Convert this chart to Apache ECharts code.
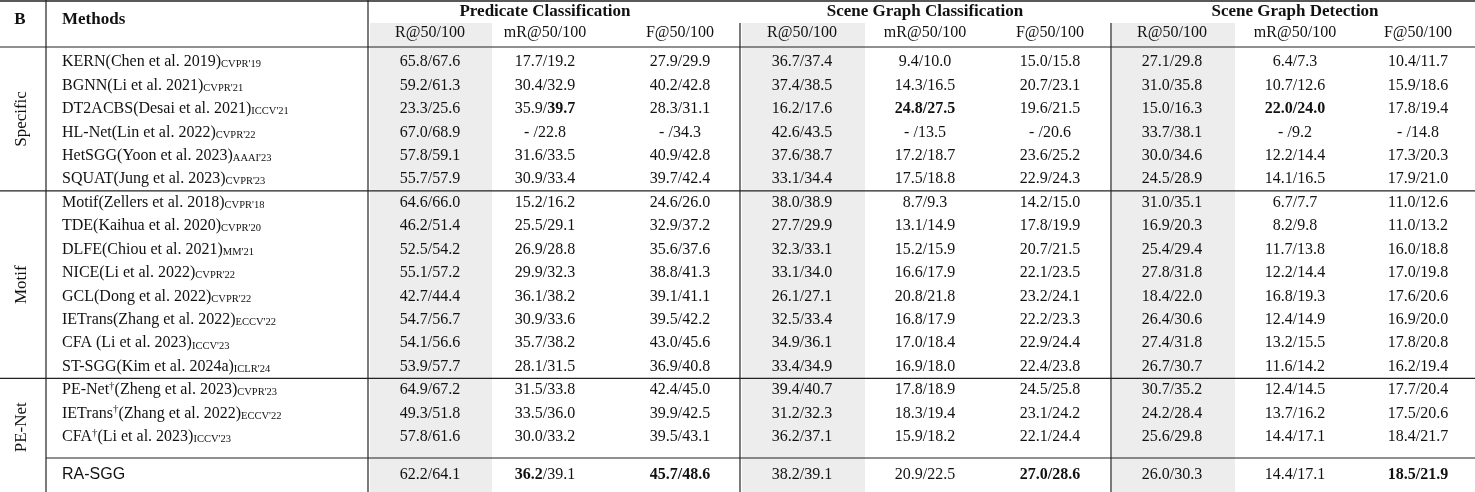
<!DOCTYPE html>
<html>
<head>
<meta charset="utf-8">
<script src="https://cdn.jsdelivr.net/npm/echarts@6/dist/echarts.min.js"></script>
<style>html,body{margin:0;padding:0;background:#fff}#chart{width:1475px;height:492px}</style>
</head>
<body>
<div id="chart"></div>
<script>
// table data
const groups = ['Specific', 'Motif', 'PE-Net']
const taskHeaders = ['Predicate Classification', 'Scene Graph Classification', 'Scene Graph Detection']
const metricHeaders = ['R@50/100', 'mR@50/100', 'F@50/100']

const specificMethods = [
  ['KERN(Chen et al. 2019)', "CVPR'19"],
  ['BGNN(Li et al. 2021)', "CVPR'21"],
  ['DT2ACBS(Desai et al. 2021)', "ICCV'21"],
  ['HL-Net(Lin et al. 2022)', "CVPR'22"],
  ['HetSGG(Yoon et al. 2023)', "AAAI'23"],
  ['SQUAT(Jung et al. 2023)', "CVPR'23"]
]
const specificValues = [
  ['65.8/67.6', '17.7/19.2', '27.9/29.9', '36.7/37.4', '9.4/10.0', '15.0/15.8', '27.1/29.8', '6.4/7.3', '10.4/11.7'],
  ['59.2/61.3', '30.4/32.9', '40.2/42.8', '37.4/38.5', '14.3/16.5', '20.7/23.1', '31.0/35.8', '10.7/12.6', '15.9/18.6'],
  ['23.3/25.6', '35.9/**39.7**', '28.3/31.1', '16.2/17.6', '**24.8/27.5**', '19.6/21.5', '15.0/16.3', '**22.0/24.0**', '17.8/19.4'],
  ['67.0/68.9', '- /22.8', '- /34.3', '42.6/43.5', '- /13.5', '- /20.6', '33.7/38.1', '- /9.2', '- /14.8'],
  ['57.8/59.1', '31.6/33.5', '40.9/42.8', '37.6/38.7', '17.2/18.7', '23.6/25.2', '30.0/34.6', '12.2/14.4', '17.3/20.3'],
  ['55.7/57.9', '30.9/33.4', '39.7/42.4', '33.1/34.4', '17.5/18.8', '22.9/24.3', '24.5/28.9', '14.1/16.5', '17.9/21.0']
]
const motifMethods = [
  ['Motif(Zellers et al. 2018)', "CVPR'18"],
  ['TDE(Kaihua et al. 2020)', "CVPR'20"],
  ['DLFE(Chiou et al. 2021)', "MM'21"],
  ['NICE(Li et al. 2022)', "CVPR'22"],
  ['GCL(Dong et al. 2022)', "CVPR'22"],
  ['IETrans(Zhang et al. 2022)', "ECCV'22"],
  ['CFA (Li et al. 2023)', "ICCV'23"],
  ['ST-SGG(Kim et al. 2024a)', "ICLR'24"]
]
const motifValues = [
  ['64.6/66.0', '15.2/16.2', '24.6/26.0', '38.0/38.9', '8.7/9.3', '14.2/15.0', '31.0/35.1', '6.7/7.7', '11.0/12.6'],
  ['46.2/51.4', '25.5/29.1', '32.9/37.2', '27.7/29.9', '13.1/14.9', '17.8/19.9', '16.9/20.3', '8.2/9.8', '11.0/13.2'],
  ['52.5/54.2', '26.9/28.8', '35.6/37.6', '32.3/33.1', '15.2/15.9', '20.7/21.5', '25.4/29.4', '11.7/13.8', '16.0/18.8'],
  ['55.1/57.2', '29.9/32.3', '38.8/41.3', '33.1/34.0', '16.6/17.9', '22.1/23.5', '27.8/31.8', '12.2/14.4', '17.0/19.8'],
  ['42.7/44.4', '36.1/38.2', '39.1/41.1', '26.1/27.1', '20.8/21.8', '23.2/24.1', '18.4/22.0', '16.8/19.3', '17.6/20.6'],
  ['54.7/56.7', '30.9/33.6', '39.5/42.2', '32.5/33.4', '16.8/17.9', '22.2/23.3', '26.4/30.6', '12.4/14.9', '16.9/20.0'],
  ['54.1/56.6', '35.7/38.2', '43.0/45.6', '34.9/36.1', '17.0/18.4', '22.9/24.4', '27.4/31.8', '13.2/15.5', '17.8/20.8'],
  ['53.9/57.7', '28.1/31.5', '36.9/40.8', '33.4/34.9', '16.9/18.0', '22.4/23.8', '26.7/30.7', '11.6/14.2', '16.2/19.4']
]
const penetMethods = [
  ['PE-Net†(Zheng et al. 2023)', "CVPR'23"],
  ['IETrans†(Zhang et al. 2022)', "ECCV'22"],
  ['CFA†(Li et al. 2023)', "ICCV'23"]
]
const penetValues = [
  ['64.9/67.2', '31.5/33.8', '42.4/45.0', '39.4/40.7', '17.8/18.9', '24.5/25.8', '30.7/35.2', '12.4/14.5', '17.7/20.4'],
  ['49.3/51.8', '33.5/36.0', '39.9/42.5', '31.2/32.3', '18.3/19.4', '23.1/24.2', '24.2/28.4', '13.7/16.2', '17.5/20.6'],
  ['57.8/61.6', '30.0/33.2', '39.5/43.1', '36.2/37.1', '15.9/18.2', '22.1/24.4', '25.6/29.8', '14.4/17.1', '18.4/21.7']
]
const oursName = 'RA-SGG'
const oursValues = ['62.2/64.1', '**36.2**/39.1', '**45.7/48.6**', '38.2/39.1', '20.9/22.5', '**27.0/28.6**', '26.0/30.3', '14.4/17.1', '**18.5/21.9**']

// layout
const W = 1475, H = 492
const colX = [430, 545, 680, 802, 925, 1050, 1172, 1295, 1418]
const rowY0 = 62, rowStep = 23.44, oursY = 475
const serif = '"Liberation Serif", "DejaVu Serif", serif'
const sans = '"Liberation Sans", Arial, sans-serif'

function boldRich(s) {
  return s.split('**').map((p, i) => p === '' ? '' : (i % 2 ? '{b|' + p + '}' : '{r|' + p + '}')).join('')
}
function methodRich(m) {
  const name = m[0].split('†').map(p => p ? '{n|' + p + '}' : '').join('{s|†}')
  return name + '{v|' + m[1].toUpperCase() + '}'
}

const cells = []
const allRows = []
specificMethods.forEach((m, i) => allRows.push([m, specificValues[i]]))
motifMethods.forEach((m, i) => allRows.push([m, motifValues[i]]))
penetMethods.forEach((m, i) => allRows.push([m, penetValues[i]]))
allRows.forEach((r, i) => {
  const y = rowY0 + rowStep * i
  cells.push([62, y, methodRich(r[0]), 'left'])
  r[1].forEach((v, j) => cells.push([colX[j], y, boldRich(v), 'center']))
})
cells.push([62, oursY, '{o|' + oursName + '}', 'left'])
oursValues.forEach((v, j) => cells.push([colX[j], oursY, boldRich(v), 'center']))
// headers
cells.push([20, 20, '{h|B}', 'center'])
cells.push([62, 20, '{h|Methods}', 'left'])
taskHeaders.forEach((t, k) => cells.push([colX[k * 3 + 1], 12, '{h|' + t + '}', 'center']))
for (let k = 0; k < 3; k++) metricHeaders.forEach((t, j) => cells.push([colX[k * 3 + j], 33, '{r|' + t + '}', 'center']))

const rich = {
  r: { fontFamily: serif, fontSize: 16, fill: '#111' },
  b: { fontFamily: serif, fontSize: 16, fontWeight: 'bold', fill: '#111' },
  h: { fontFamily: serif, fontSize: 17, fontWeight: 'bold', fill: '#111' },
  n: { fontFamily: serif, fontSize: 16, fill: '#111' },
  s: { fontFamily: serif, fontSize: 11, fill: '#111', verticalAlign: 'top', padding: [0, 0, 8, 0] },
  v: { fontFamily: serif, fontSize: 10.5, fill: '#111', padding: [5, 0, 0, 0] },
  o: { fontFamily: sans, fontSize: 16, fill: '#111' }
}

// rules
const groupBreaks = [rowY0 + rowStep * 5.5, rowY0 + rowStep * 13.5]
const lineStyle = { stroke: '#222', lineWidth: 1.2 }
const graphics = []
;[[370, 492], [742, 865], [1112, 1235]].forEach(([a, b]) => {
  graphics.push({ type: 'rect', shape: { x: a, y: 23, width: b - a, height: H - 23 }, style: { fill: '#ededed' }, z: -10 })
})
const hl = (x1, y, x2, w) => graphics.push({ type: 'line', shape: { x1, y1: y, x2, y2: y }, style: { stroke: '#222', lineWidth: w || 1.2 } })
const vl = (x, y1, y2) => graphics.push({ type: 'line', shape: { x1: x, y1, x2: x, y2 }, style: lineStyle })
hl(0, 1, W, 1.5)
hl(0, 47, W)
groupBreaks.forEach(y => hl(0, y, W))
hl(46, 458, W)
vl(46, 0, H)
vl(368, 0, H)
vl(740, 23, H)
vl(1111, 23, H)
const groupSpans = [[47, groupBreaks[0]], [groupBreaks[0], groupBreaks[1]], [groupBreaks[1], H]]
groups.forEach((g, i) => {
  graphics.push({
    type: 'text', x: 22, y: (groupSpans[i][0] + groupSpans[i][1]) / 2 + (i === 2 ? -8 : 0), rotation: Math.PI / 2,
    style: { text: g, font: '17px ' + serif, fill: '#111', align: 'center', verticalAlign: 'middle' }
  })
})

const chart = echarts.init(document.getElementById('chart'), null, { renderer: 'canvas' })
chart.setOption({
  animation: false,
  grid: { left: 0, right: 0, top: 0, bottom: 0 },
  xAxis: { type: 'value', min: 0, max: W, show: false },
  yAxis: { type: 'value', min: 0, max: H, inverse: true, show: false },
  graphic: graphics,
  series: [{
    type: 'custom',
    data: cells,
    renderItem: (params, api) => {
      const d = cells[params.dataIndex]
      const p = api.coord([d[0], d[1]])
      return {
        type: 'text', x: p[0], y: p[1],
        style: { text: d[2], rich, align: d[3], verticalAlign: 'middle' }
      }
    }
  }]
})
</script>
</body>
</html>
